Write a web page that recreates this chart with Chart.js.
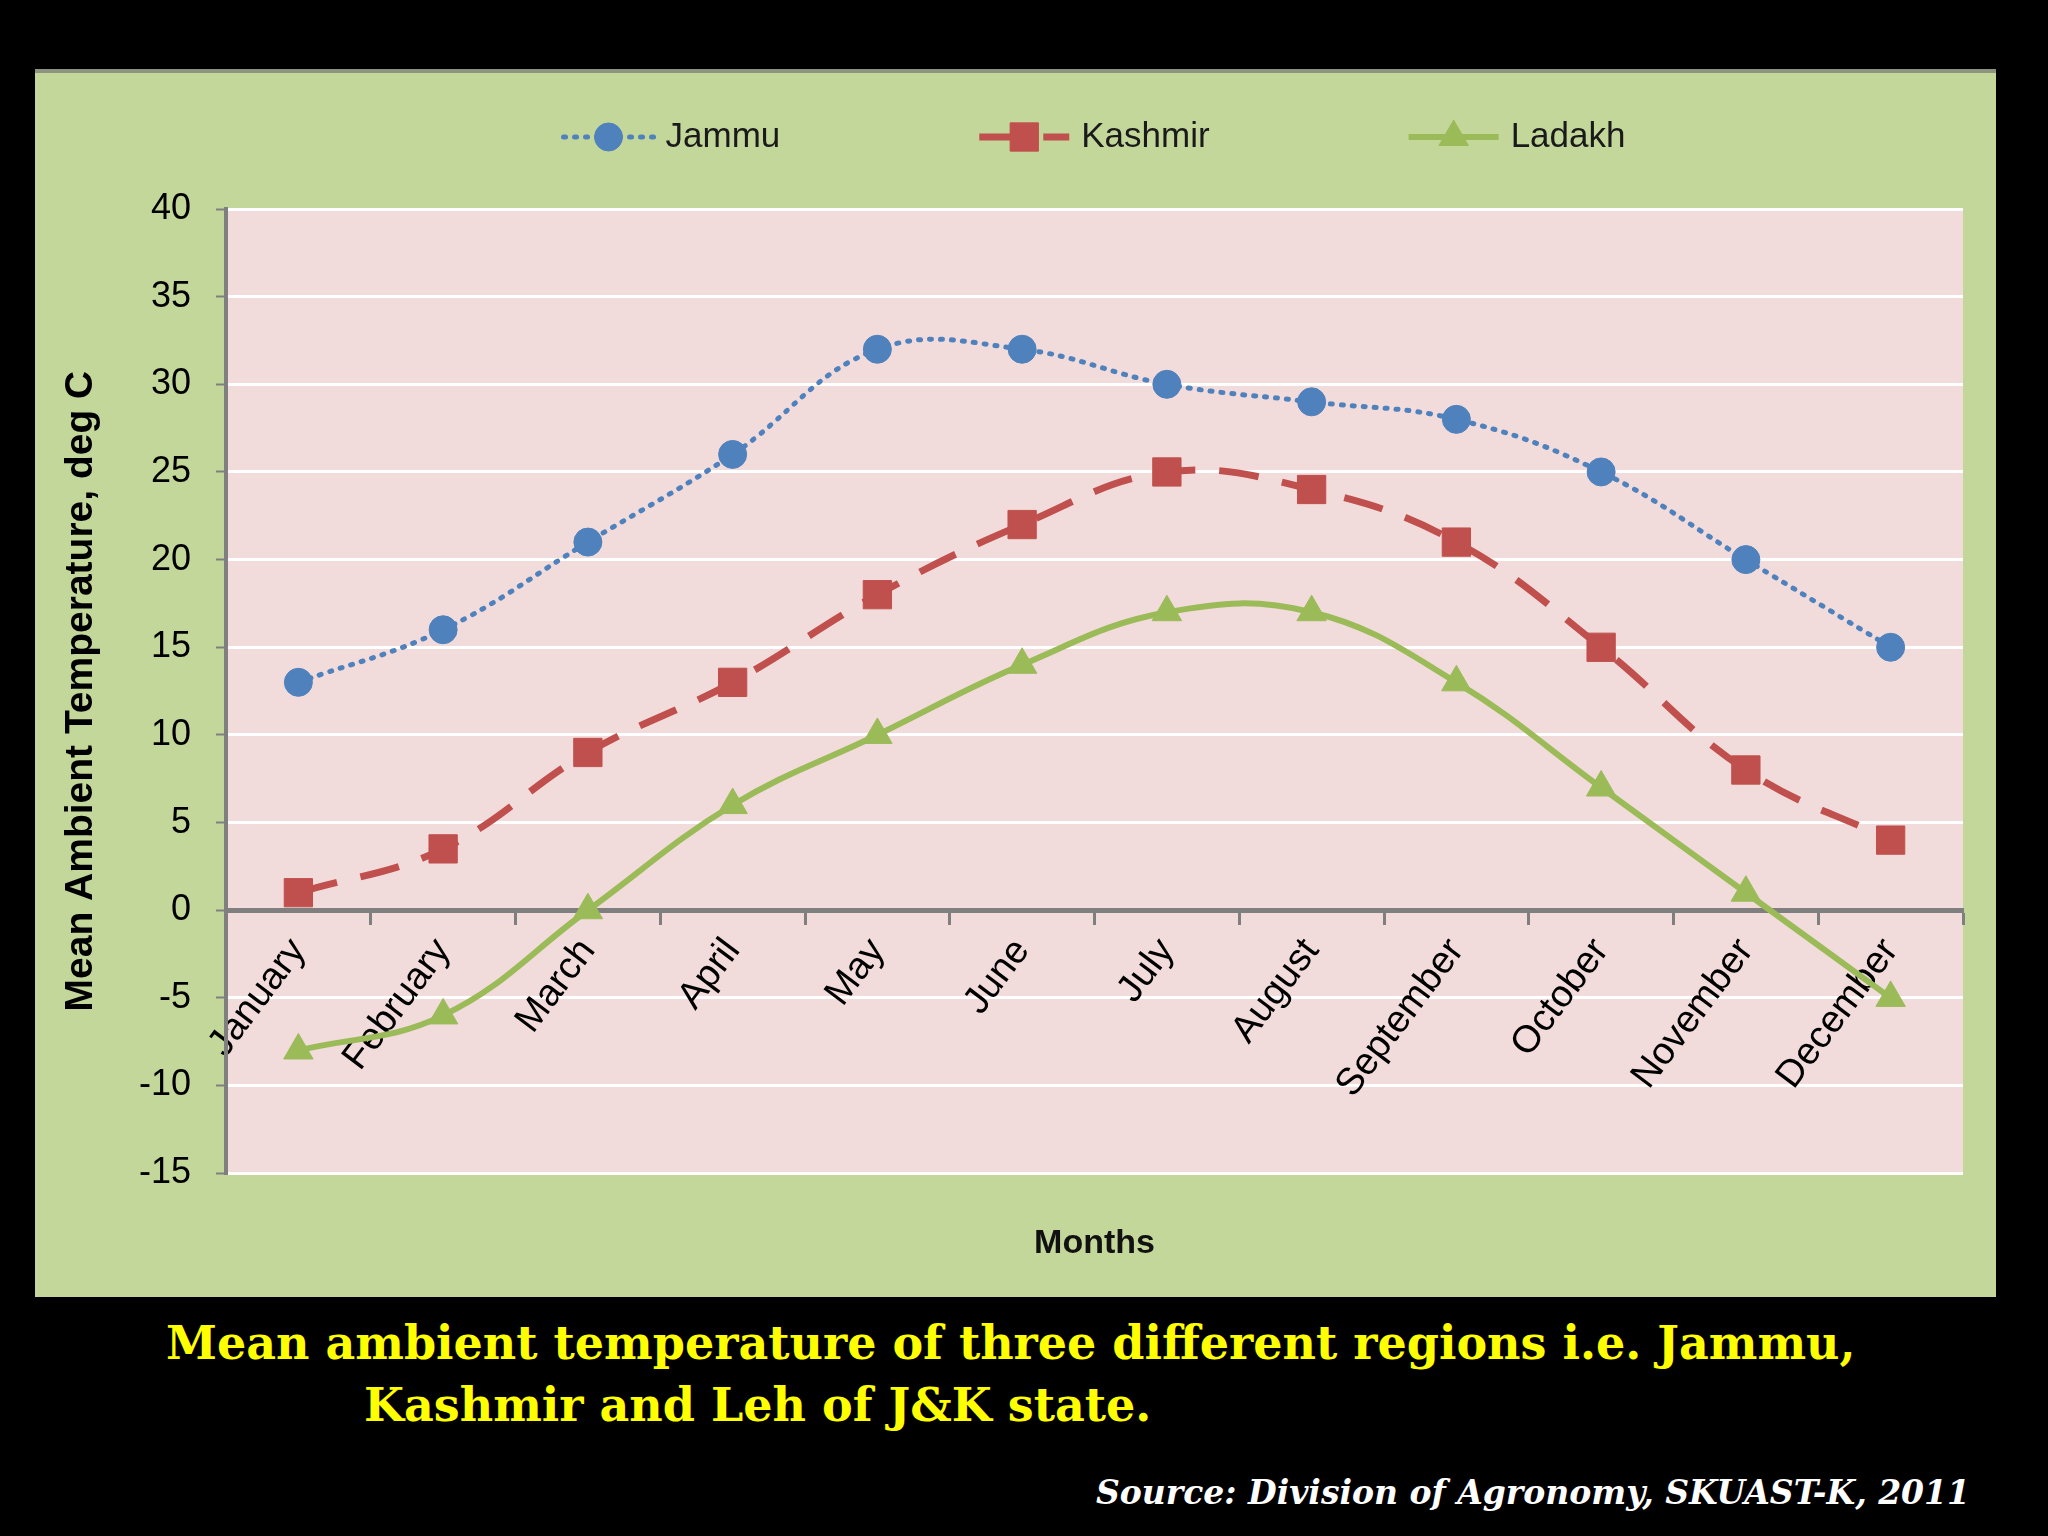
<!DOCTYPE html>
<html lang="en">
<head>
<meta charset="UTF-8">
<title>Mean ambient temperature - Jammu, Kashmir, Ladakh</title>
<script src="https://cdn.jsdelivr.net/npm/chart.js"></script>
<style>
body{margin:0;width:2048px;height:1536px;background:#000;position:relative;overflow:hidden;font-family:'Liberation Sans',Arial,sans-serif;}
.panel{position:absolute;left:35px;top:69px;width:1961px;height:1228px;background:#c4d79b;border-top:4px solid #8c9480;box-sizing:border-box;}
.panel canvas{display:block;}
.caption{position:absolute;color:#ffff00;font-family:'DejaVu Serif',serif;font-weight:bold;font-size:46px;line-height:50px;white-space:nowrap;}
.source{position:absolute;right:78px;top:1475px;color:#fff;font-family:'DejaVu Serif',serif;font-weight:bold;font-style:italic;font-size:33px;line-height:36px;white-space:nowrap;}
</style>
</head>
<body>
<div class="panel"><canvas id="chart" width="1961" height="1224"></canvas></div>
<div class="caption" style="left:166px;top:1318px;">Mean ambient temperature of three different regions i.e. Jammu,</div>
<div class="caption" style="left:364px;top:1380px;">Kashmir and Leh of J&amp;K state.</div>
<div class="source">Source: Division of Agronomy, SKUAST-K, 2011</div>
<script>
// values (deg C)
const months = ["January","February","March","April","May","June","July","August","September","October","November","December"];
const jammu   = [13, 16, 21, 26, 32, 32, 30, 29, 28, 25, 20, 15];
const kashmir = [1, 3.5, 9, 13, 18, 22, 25, 24, 21, 15, 8, 4];
const ladakh  = [-8, -6, 0, 6, 10, 14, 17, 17, 13, 7, 1, -5];
const yMin = -15, yMax = 40, yStep = 5;

const FONT = "'Liberation Sans', Arial, sans-serif";
const GREY = '#7f7f7f';

// pink plot area
const plotBg = {
  id: 'plotBg',
  beforeDraw(chart) {
    const {ctx, chartArea: a} = chart;
    ctx.save();
    ctx.fillStyle = '#f2dcdb';
    ctx.fillRect(a.left, a.top, a.right - a.left, a.bottom - a.top);
    ctx.restore();
  }
};

// excel style legend: line sample with marker on it
const lineLegend = {
  id: 'lineLegend',
  afterDraw(chart) {
    const ctx = chart.ctx, a = chart.chartArea;
    const y = 64, seg = 90, gap = 12, itemGap = 199;
    ctx.save();
    ctx.font = '35px ' + FONT;
    const items = chart.data.datasets.map(ds => ({ds, w: seg + gap + ctx.measureText(ds.label).width}));
    const total = items.reduce((s, i) => s + i.w, 0) + itemGap * (items.length - 1);
    let x = (a.left + a.right) / 2 - total / 2;
    items.forEach(({ds, w}) => {
      ctx.strokeStyle = ds.borderColor;
      ctx.lineWidth = ds.borderWidth;
      ctx.lineCap = ds.borderCapStyle || 'butt';
      ctx.setLineDash(ds.borderDash || []);
      ctx.beginPath(); ctx.moveTo(x, y); ctx.lineTo(x + seg, y); ctx.stroke();
      ctx.setLineDash([]);
      ctx.fillStyle = ds.backgroundColor;
      ctx.strokeStyle = ds.backgroundColor;
      ctx.lineWidth = 1;
      Chart.helpers.drawPoint(ctx, {pointStyle: ds.pointStyle, radius: ds.pointRadius, rotation: 0, borderWidth: 1}, x + seg / 2, y);
      ctx.fillStyle = '#1a1a1a';
      ctx.textBaseline = 'middle';
      ctx.textAlign = 'left';
      ctx.fillText(ds.label, x + seg + gap, y);
      x += w + itemGap;
    });
    ctx.restore();
  }
};

new Chart(document.getElementById('chart'), {
  type: 'line',
  data: {
    labels: months,
    datasets: [
      {label: 'Jammu', data: jammu, borderColor: '#4f81bd', backgroundColor: '#4f81bd', borderWidth: 5,
       borderDash: [2, 9], borderCapStyle: 'round', pointStyle: 'circle', pointRadius: 14, pointBorderWidth: 1, tension: 0.4},
      {label: 'Kashmir', data: kashmir, borderColor: '#c0504d', backgroundColor: '#c0504d', borderWidth: 7,
       borderDash: [40, 24], pointStyle: 'rect', pointRadius: 20, pointBorderWidth: 1, tension: 0.4},
      {label: 'Ladakh', data: ladakh, borderColor: '#9bbb59', backgroundColor: '#9bbb59', borderWidth: 6,
       pointStyle: 'triangle', pointRadius: 17, pointBorderWidth: 1, tension: 0.4}
    ]
  },
  options: {
    responsive: false,
    animation: false,
    layout: {padding: {top: 136, right: 33, bottom: 33, left: 0}},
    plugins: {
      legend: {display: false},
      tooltip: {enabled: false},
      title: {display: true, text: 'Months', position: 'bottom', fullSize: false, color: '#111',
              font: {family: FONT, size: 34, weight: 'bold'}, padding: {top: 50, bottom: 0}}
    },
    scales: {
      x: {
        type: 'category', offset: true, position: {y: 0},
        border: {color: GREY, width: 5},
        grid: {drawOnChartArea: false, offset: true, tickLength: 12, tickColor: GREY, tickWidth: 3},
        ticks: {autoSkip: false, minRotation: 53, maxRotation: 53, color: '#000', padding: 8,
                font: {family: FONT, size: 38}}
      },
      y: {
        min: yMin, max: yMax,
        ticks: {stepSize: yStep, color: '#000', padding: 25, font: {family: FONT, size: 36}},
        grid: {color: c => c.tick && c.tick.value === 0 ? GREY : '#ffffff', lineWidth: 3,
               tickLength: 10, tickColor: GREY, tickWidth: 2},
        border: {color: GREY, width: 4},
        title: {display: true, text: 'Mean Ambient Temperature, deg C', color: '#000',
                font: {family: FONT, size: 39, weight: 'bold'}, padding: {top: 23, bottom: 0}},
        afterFit(s) { s.width = 191; }
      }
    }
  },
  plugins: [plotBg, lineLegend]
});
</script>
</body>
</html>
